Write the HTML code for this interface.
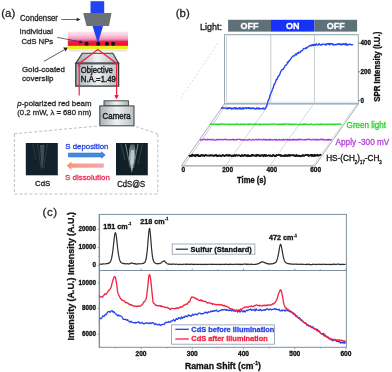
<!DOCTYPE html>
<html><head><meta charset="utf-8"><style>
html,body{margin:0;padding:0;background:#fff;width:392px;height:372px;overflow:hidden}
svg{display:block}
text{font-family:"Liberation Sans",Arial,sans-serif}
</style></head><body>
<svg width="392" height="372" viewBox="0 0 392 372">
<defs>
<linearGradient id="pink" x1="0" y1="0" x2="0" y2="1">
<stop offset="0" stop-color="#fde8f0"/><stop offset="0.3" stop-color="#f9c2d6"/><stop offset="0.52" stop-color="#f392ba"/><stop offset="0.6" stop-color="#e56aa6"/><stop offset="0.68" stop-color="#f02242"/><stop offset="1" stop-color="#ee0c2a"/></linearGradient>
<linearGradient id="objg" x1="0" y1="0" x2="1" y2="0">
<stop offset="0" stop-color="#a9b0b4"/><stop offset="0.5" stop-color="#eef1f1"/><stop offset="1" stop-color="#b8bec2"/></linearGradient>
<linearGradient id="objt" x1="0" y1="0" x2="1" y2="0">
<stop offset="0" stop-color="#9aa2a6"/><stop offset="0.5" stop-color="#f2f4f4"/><stop offset="1" stop-color="#aab2b6"/></linearGradient>
<linearGradient id="arrB" x1="0" y1="0" x2="0" y2="1">
<stop offset="0" stop-color="#2f68e6"/><stop offset="0.5" stop-color="#3f8ce0"/><stop offset="1" stop-color="#2f68e6"/></linearGradient>
<linearGradient id="arrR" x1="0" y1="0" x2="1" y2="0">
<stop offset="0" stop-color="#f29070"/><stop offset="0.25" stop-color="#f6a08c"/><stop offset="1" stop-color="#f8a4b8"/></linearGradient>
<radialGradient id="img1" cx="0.5" cy="0.45" r="0.6">
<stop offset="0" stop-color="#2c3e44"/><stop offset="1" stop-color="#142228"/></radialGradient>
<linearGradient id="vB" x1="0" y1="0" x2="0" y2="1">
<stop offset="0" stop-color="#b9c4c4" stop-opacity="0.9"/><stop offset="1" stop-color="#dfe6e6" stop-opacity="0.95"/></linearGradient>
<linearGradient id="vA" x1="0" y1="0" x2="0" y2="1">
<stop offset="0" stop-color="#5a6e72" stop-opacity="0.7"/><stop offset="1" stop-color="#6d8084" stop-opacity="0.8"/></linearGradient>
<filter id="bl1" x="-0.3" y="-0.3" width="1.6" height="1.6"><feGaussianBlur stdDeviation="0.6"/></filter>
<filter id="bl2" x="-0.3" y="-0.3" width="1.6" height="1.6"><feGaussianBlur stdDeviation="0.75"/></filter>
<linearGradient id="spB" x1="0" y1="0" x2="0" y2="1"><stop offset="0" stop-color="#4e6266"/><stop offset="0.35" stop-color="#8a9a9c"/><stop offset="0.6" stop-color="#b4c0c0"/><stop offset="1" stop-color="#8a9a9c"/></linearGradient>
<linearGradient id="stB" x1="0" y1="0" x2="0" y2="1" gradientUnits="objectBoundingBox"><stop offset="0" stop-color="#7a8c8e"/><stop offset="1" stop-color="#5a6c70"/></linearGradient>
</defs>
<rect width="392" height="372" fill="#fff"/>
<text x="1.3" y="16.9" font-size="11.4" fill="#231f20" stroke="#231f20" stroke-width="0.3" text-anchor="start"  >(a)</text>
<rect x="90.5" y="1.2" width="13.7" height="12" fill="#2344f0"/>
<polygon points="83.2,13 111.5,13 109,26 86.5,26" fill="#6b7175"/>
<rect x="67.8" y="31.7" width="60.2" height="14.2" fill="url(#pink)"/>
<rect x="67.8" y="45.9" width="60.4" height="3.2" fill="#eeee1e"/>
<rect x="69" y="49.3" width="58" height="2.2" fill="#e2e6ea"/>
<polygon points="92.6,26 103,26 97.9,43.5" fill="#2140f0"/>
<circle cx="86.6" cy="43.8" r="2.05" fill="#10101c"/>
<circle cx="98.2" cy="43.8" r="2.05" fill="#10101c"/>
<circle cx="106.9" cy="43.8" r="2.05" fill="#10101c"/>
<circle cx="113.1" cy="43.8" r="2.05" fill="#10101c"/>
<polygon points="82.3,53.3 112.8,53.3 118.6,63.2 75.8,63.2" fill="url(#objt)" stroke="#34383b" stroke-width="1.1"/>
<rect x="75.8" y="63.2" width="42.8" height="22.9" fill="url(#objg)" stroke="#34383b" stroke-width="1.3"/>
<line x1="76.4" y1="64.2" x2="118" y2="64.2" stroke="#6a7074" stroke-width="0.8"/>
<polyline points="79.2,95.5 79.2,63.4 97.9,49.6 116.6,63.4 116.6,96" fill="none" stroke="#f0203f" stroke-width="1.2"/>
<polygon points="114.6,95 118.8,95 116.7,99" fill="#f0203f"/>
<polygon points="77.6,66.4 81,66.4 79.3,63.4" fill="#f0203f"/>
<polygon points="114.3,95.4 118.5,95.4 116.4,99" fill="#f0203f"/>
<text transform="translate(80.8,72.8) scale(1,1.12)" font-size="7.7" fill="#1b1b1b" stroke="#1b1b1b" stroke-width="0.4" text-anchor="start"  >Objective</text>
<text transform="translate(80.8,81.9) scale(1,1.12)" font-size="7.85" fill="#1b1b1b" stroke="#1b1b1b" stroke-width="0.4" text-anchor="start"  >N.A.=1.49</text>
<rect x="104" y="100.8" width="24.4" height="5.1" fill="url(#objt)" stroke="#3b3f42" stroke-width="0.9"/>
<rect x="99.8" y="105.9" width="34.2" height="19.9" fill="url(#objg)" stroke="#3b3f42" stroke-width="1"/>
<text transform="translate(102.6,119) scale(1,1.1)" font-size="7.92" fill="#1b1b1b" stroke="#1b1b1b" stroke-width="0.4" text-anchor="start"  >Camera</text>
<text transform="translate(20,21.3) scale(1,1.05)" font-size="7.77" fill="#2a2a2a" stroke="#2a2a2a" stroke-width="0.3" text-anchor="start"  >Condenser</text>
<line x1="61.3" y1="19.5" x2="78" y2="19.5" stroke="#444" stroke-width="0.8"/>
<polygon points="76.6,17.7 80.6,19.5 76.6,21.3" fill="#222"/>
<text x="19.6" y="33.9" font-size="7.9" fill="#2a2a2a" stroke="#2a2a2a" stroke-width="0.3" text-anchor="start"  >Individual</text>
<text x="21.4" y="43.75" font-size="7.74" fill="#2a2a2a" stroke="#2a2a2a" stroke-width="0.3" text-anchor="start"  >CdS NPs</text>
<line x1="57.2" y1="37.4" x2="68" y2="39.4" stroke="#444" stroke-width="0.8"/>
<line x1="68" y1="39.4" x2="80.5" y2="41.9" stroke="#3a2a6a" stroke-width="0.8"/>
<polygon points="79.8,39.9 83.4,42.7 79,43.8" fill="#2a1e50"/>
<text x="22" y="72.2" font-size="7.87" fill="#2a2a2a" stroke="#2a2a2a" stroke-width="0.3" text-anchor="start"  >Gold-coated</text>
<text x="22" y="80.7" font-size="7.98" fill="#2a2a2a" stroke="#2a2a2a" stroke-width="0.3" text-anchor="start"  >coverslip</text>
<line x1="43.9" y1="61.4" x2="64.5" y2="49.6" stroke="#333" stroke-width="0.8"/>
<polygon points="63.2,47.6 67.8,47.6 65.6,51.6" fill="#222"/>
<text transform="translate(17.3,106.3)" font-size="7.85" fill="#2a2a2a" stroke="#2a2a2a" stroke-width="0.3" ><tspan font-style="italic">p</tspan>-polarized red beam</text>
<text x="17.3" y="115.2" font-size="7.74" fill="#2a2a2a" stroke="#2a2a2a" stroke-width="0.3" text-anchor="start"  >(0.2 mW, λ = 680 nm)</text>
<polyline points="14.4,134 14.4,194 157.8,194 157.8,134" fill="none" stroke="#b4b8bb" stroke-width="0.9" stroke-dasharray="3,2"/>
<line x1="14.2" y1="133.8" x2="99.8" y2="125.8" stroke="#b4b8bb" stroke-width="0.9" stroke-dasharray="3,2"/>
<line x1="157.8" y1="134" x2="134" y2="125.8" stroke="#b4b8bb" stroke-width="0.9" stroke-dasharray="3,2"/>
<rect x="25.8" y="143" width="32" height="32.3" fill="#13222a"/>
<g filter="url(#bl1)">
<polygon points="40,145 44.5,145 43.5,160 42,171 41,160" fill="#41555a" opacity="0.9"/>
<line x1="37.5" y1="144" x2="41.2" y2="168" stroke="#2e4248" stroke-width="0.9"/>
<line x1="47.5" y1="144" x2="43.5" y2="168" stroke="#2e4248" stroke-width="0.9"/>
<line x1="33" y1="144" x2="36" y2="160" stroke="#2a3c42" stroke-width="0.9"/>
</g>
<rect x="116" y="143" width="31.8" height="32.3" fill="#111f27"/>
<g filter="url(#bl2)">
<polygon points="130.4,144.5 134.4,144.5 135.4,150 135,158 133.4,166 131.8,173 130.4,166 129,158 129,150" fill="url(#spB)"/>
<polygon points="131.2,150 134,150 134,156 133,163 132,167 131,161 130.6,155" fill="#c8d2d2" opacity="0.8"/>
<line x1="125.5" y1="144" x2="130.4" y2="168" stroke="url(#stB)" stroke-width="1"/>
<line x1="138" y1="144" x2="133.4" y2="168" stroke="url(#stB)" stroke-width="1"/>
<line x1="121" y1="144" x2="125" y2="160" stroke="#2e4046" stroke-width="1.1"/>
<line x1="142.5" y1="144" x2="138" y2="164" stroke="#2e4046" stroke-width="1.1"/>
</g>
<text transform="translate(42.6,186.2) scale(1,1.03)" font-size="7.8" fill="#1b1b1b" stroke="#1b1b1b" stroke-width="0.3" text-anchor="middle"  >CdS</text>
<text transform="translate(131.2,186.6) scale(1,1.12)" font-size="7.7" fill="#1b1b1b" stroke="#1b1b1b" stroke-width="0.3" text-anchor="middle"  >CdS@S</text>
<polygon points="68.1,152.8 101.2,152.8 101.2,151.2 105.7,155 101.2,158.8 101.2,157.2 68.1,157.2" fill="url(#arrB)"/>
<line x1="69.5" y1="155" x2="102" y2="155" stroke="#8cc890" stroke-width="0.6" stroke-dasharray="0.8,1.6"/>
<polygon points="103.8,163.6 71.4,163.6 71.4,161.6 66.8,165.7 71.4,169.9 71.4,167.8 103.8,167.8" fill="url(#arrR)"/>
<line x1="70" y1="165.7" x2="102.5" y2="165.7" stroke="#f09060" stroke-width="0.6" stroke-dasharray="0.8,1.6"/>
<text x="65.3" y="148.7" font-size="7.85" fill="#2a44e0" stroke="#2a44e0" stroke-width="0.3" text-anchor="start"  >S deposition</text>
<text x="65.1" y="179.5" font-size="7.9" fill="#f02a55" stroke="#f02a55" stroke-width="0.3" text-anchor="start"  >S dissolution</text>
<text x="175.8" y="17.2" font-size="11.4" fill="#231f20" stroke="#231f20" stroke-width="0.3" text-anchor="start"  >(b)</text>
<text x="200" y="29.6" font-size="8.96" fill="#111" stroke="#111" stroke-width="0.3" text-anchor="start"  >Light:</text>
<rect x="228.1" y="19.8" width="42.9" height="11.8" fill="#5e7078"/>
<rect x="271" y="19.8" width="43.5" height="11.8" fill="#1732f8"/>
<rect x="314.5" y="19.8" width="42.6" height="11.8" fill="#5e7078"/>
<text x="249.5" y="29.3" font-size="9" font-weight="bold" fill="#fff" stroke="#fff" stroke-width="0.3" text-anchor="middle"  >OFF</text>
<text x="292.7" y="29.3" font-size="9" font-weight="bold" fill="#fff" stroke="#fff" stroke-width="0.3" text-anchor="middle"  >ON</text>
<text x="335.8" y="29.3" font-size="9" font-weight="bold" fill="#fff" stroke="#fff" stroke-width="0.3" text-anchor="middle"  >OFF</text>
<line x1="217.6" y1="43.3" x2="181.1" y2="97.6" stroke="#c8d0d8" stroke-width="0.8" stroke-dasharray="2,2"/>
<rect x="224.5" y="34.6" width="133.8" height="69.1" fill="none" stroke="#9aa8b2" stroke-width="1"/>
<line x1="224.5" y1="103.7" x2="358.3" y2="103.7" stroke="#a2b0bc" stroke-width="1.4"/>
<line x1="226.5" y1="35.8" x2="226.5" y2="102.4" stroke="#c4ced6" stroke-width="0.8"/>
<line x1="226.5" y1="35.8" x2="357.5" y2="35.8" stroke="#d4dce2" stroke-width="0.6"/>
<line x1="226.5" y1="102.2" x2="357.5" y2="102.2" stroke="#d0d8de" stroke-width="0.7"/>
<line x1="270.8" y1="34.6" x2="270.8" y2="103.8" stroke="#b8c4cc" stroke-width="0.8"/>
<line x1="314.5" y1="34.6" x2="314.5" y2="103.8" stroke="#b8c4cc" stroke-width="0.8"/>
<line x1="358.3" y1="43.1" x2="360" y2="43.1" stroke="#555" stroke-width="0.8"/>
<text transform="translate(360.6,45.3) scale(1,1.04)" font-size="6.3" font-weight="bold" fill="#111" stroke="#111" stroke-width="0.3" text-anchor="start"  >400</text>
<line x1="358.3" y1="71.8" x2="360" y2="71.8" stroke="#555" stroke-width="0.8"/>
<text transform="translate(360.6,74) scale(1,1.04)" font-size="6.3" font-weight="bold" fill="#111" stroke="#111" stroke-width="0.3" text-anchor="start"  >200</text>
<line x1="358.3" y1="100.6" x2="360" y2="100.6" stroke="#555" stroke-width="0.8"/>
<text transform="translate(360.6,102.8) scale(1,1.04)" font-size="6.3" font-weight="bold" fill="#111" stroke="#111" stroke-width="0.3" text-anchor="start"  >0</text>
<text transform="translate(379.8,101.8) rotate(-90) scale(1,1.08)" font-size="7.85" font-weight="bold" fill="#111" stroke="#111" stroke-width="0.3" >SPR Intensity (I.U.)</text>
<line x1="224.4" y1="104" x2="181.4" y2="165.8" stroke="#8c9aa6" stroke-width="0.8"/>
<line x1="226.6" y1="104.6" x2="183.8" y2="165.4" stroke="#aab6c0" stroke-width="0.7"/>
<line x1="358.3" y1="104" x2="314.8" y2="165.8" stroke="#8c9aa6" stroke-width="0.8"/>
<line x1="356.4" y1="105" x2="313.2" y2="165.4" stroke="#c0cad2" stroke-width="0.6"/>
<line x1="181.4" y1="165.9" x2="314.6" y2="165.9" stroke="#95a5b0" stroke-width="1.3"/>
<line x1="225.7" y1="165.6" x2="269.4" y2="103.8" stroke="#b8c8e0" stroke-width="0.7"/>
<line x1="270" y1="165.6" x2="313.6" y2="103.8" stroke="#b8c8e0" stroke-width="0.7"/>
<text transform="translate(183.4,172.4) scale(1,1.04)" font-size="6.5" font-weight="bold" fill="#111" stroke="#111" stroke-width="0.3" text-anchor="middle"  >0</text>
<text transform="translate(227.6,172.4) scale(1,1.04)" font-size="6.5" font-weight="bold" fill="#111" stroke="#111" stroke-width="0.3" text-anchor="middle"  >200</text>
<text transform="translate(271.8,172.4) scale(1,1.04)" font-size="6.5" font-weight="bold" fill="#111" stroke="#111" stroke-width="0.3" text-anchor="middle"  >400</text>
<text transform="translate(315.6,172.4) scale(1,1.04)" font-size="6.5" font-weight="bold" fill="#111" stroke="#111" stroke-width="0.3" text-anchor="middle"  >600</text>
<text transform="translate(251.6,182.5) scale(1,1.08)" font-size="7.63" font-weight="bold" fill="#111" stroke="#111" stroke-width="0.3" text-anchor="middle"  >Time (s)</text>
<polyline points="221,108.17 221.5,108.65 222,107.5 222.5,107.99 223,107.74 223.5,107.65 224,107.8 224.5,108.06 225,108.14 225.5,108.37 226,108.18 226.5,108.61 227,107.84 227.5,108.92 228,107.56 228.5,108.59 229,108.19 229.5,108.41 230,107.74 230.5,107.84 231,108.8 231.5,109.07 232,108.03 232.5,108.63 233,108.93 233.5,108.96 234,107.67 234.5,107.59 235,107.8 235.5,108.94 236,107.69 236.5,108.21 237,109.07 237.5,108.39 238,108.65 238.5,108.04 239,108.64 239.5,108.88 240,107.57 240.5,108.74 241,109.13 241.5,108.74 242,108 242.5,108.81 243,107.71 243.5,108.27 244,109.01 244.5,108.02 245,108.01 245.5,107.76 246,107.59 246.5,108.64 247,107.9 247.5,107.98 248,108.35 248.5,107.65 249,108.48 249.5,107.8 250,108.51 250.5,108.69 251,107.73 251.5,108.23 252,108.68 252.5,108.23 253,107.65 253.5,108.43 254,108.64 254.5,108.4 255,109.09 255.5,108.52 256,109.02 256.5,107.8 257,107.8 257.5,108.87 258,108.22 258.5,107.85 259,109.07 259.5,108.14 260,108.79 260.5,108.75 261,109 261.5,108.59 262,108.79 262.5,108.15 263,108.03 263.5,109.03 264,108.28 264.5,109.14 265,108.66 265.5,108.59 266,106.9 266.5,106.77 267,104.51 267.5,103.25 268,101.51 268.5,99.77 269,99.37 269.5,97.37 270,94.99 270.5,94.61 271,92.84 271.5,91.85 272,91.12 272.5,88.97 273,88.55 273.5,86.79 274,84.52 274.5,84.67 275,82.99 275.5,82.33 276,80.11 276.5,79.15 277,79.53 277.5,78.25 278,76.34 278.5,76.54 279,75.63 279.5,75 280,73.76 280.5,71.96 281,71.1 281.5,70.41 282,69.72 282.5,69.37 283,69.66 283.5,68.45 284,67.77 284.5,67.54 285,65.69 285.5,65.25 286,65.08 286.5,65.04 287,63.73 287.5,62.2 288,62.8 288.5,61.23 289,61.49 289.5,60.17 290,60.27 290.5,59.43 291,58.65 291.5,57.56 292,57.02 292.5,56.69 293,56.15 293.5,55.83 294,55.59 294.5,55.95 295,55.29 295.5,53.99 296,53.72 296.5,54.83 297,53.87 297.5,52.96 298,52.72 298.5,53.18 299,51.98 299.5,52.27 300,52.57 300.5,52.05 301,50.75 301.5,50.81 302,50.66 302.5,50.65 303,49.23 303.5,48.67 304,48.4 304.5,48.72 305,48.57 305.5,48.24 306,47.56 306.5,48.36 307,47.43 307.5,46.83 308,46.83 308.5,46.87 309,46.47 309.5,45.69 310,45.24 310.5,45.6 311,45.88 311.5,45.08 312,45.82 312.5,44.59 313,44.77 313.5,45.51 314,44.4 314.5,44.98 315,44.67 315.5,45.26 316,44.17 316.5,43.82 317,44.87 317.5,44.9 318,45.08 318.5,45.09 319,43.6 319.5,43.92 320,44.5 320.5,45.01 321,44.98 321.5,44.32 322,44.86 322.5,44.43 323,44.02 323.5,44.18 324,44.37 324.5,44.28 325,44.88 325.5,44.87 326,44.03 326.5,44.94 327,43.68 327.5,43.6 328,43.62 328.5,44.21 329,43.43 329.5,44.92 330,44.73 330.5,43.43 331,43.69 331.5,43.94 332,43.62 332.5,44.71 333,43.97 333.5,44.92 334,44.35 334.5,44.83 335,44.78 335.5,44.87 336,44.16 336.5,44.3 337,44.71 337.5,43.89 338,44.22 338.5,44.4 339,43.47 339.5,44.39 340,44.14 340.5,44.74 341,43.95 341.5,44.88 342,44.38 342.5,43.75 343,44.72 343.5,44.44 344,43.55 344.5,44.14 345,44.55 345.5,44.94 346,43.47 346.5,45.04 347,44.08 347.5,45.03 348,44.45 348.5,44.81 349,44.4 349.5,44.49 350,43.94 350.5,44.43 351,44.69 351.5,44.87 352,44.7 352.5,44.61 353,44.88" fill="none" stroke="#2646f0" stroke-width="1.35" stroke-linejoin="round"/>
<polyline points="209.8,124.24 210.3,123.87 210.8,124.34 211.3,124.24 211.8,124.23 212.3,124.15 212.8,124.03 213.3,124.41 213.8,124.12 214.3,124.09 214.8,124.41 215.3,124.33 215.8,123.97 216.3,124.31 216.8,124.02 217.3,124.56 217.8,124.62 218.3,124.29 218.8,124.61 219.3,123.92 219.8,124.3 220.3,123.91 220.8,124.24 221.3,123.94 221.8,123.96 222.3,124.39 222.8,124.05 223.3,123.95 223.8,124.05 224.3,124.16 224.8,124.27 225.3,124.03 225.8,124.43 226.3,124.28 226.8,124.3 227.3,124.2 227.8,124.56 228.3,124.37 228.8,124 229.3,124.48 229.8,124.72 230.3,124.3 230.8,124.65 231.3,124.16 231.8,124.36 232.3,124.23 232.8,124.24 233.3,124.55 233.8,124.33 234.3,124.71 234.8,124.34 235.3,123.92 235.8,124.18 236.3,124.62 236.8,124.22 237.3,123.87 237.8,124.07 238.3,123.91 238.8,124.74 239.3,124.72 239.8,124.57 240.3,124.39 240.8,124.54 241.3,124 241.8,124.11 242.3,124.32 242.8,124.17 243.3,123.89 243.8,124.73 244.3,124.25 244.8,124.3 245.3,124.14 245.8,124.08 246.3,124.2 246.8,124.6 247.3,124.51 247.8,124.19 248.3,123.86 248.8,124.57 249.3,124.09 249.8,124.37 250.3,123.87 250.8,124.45 251.3,124.2 251.8,124.3 252.3,124.22 252.8,124.17 253.3,124.35 253.8,124.73 254.3,123.95 254.8,124.13 255.3,123.89 255.8,124.51 256.3,124.44 256.8,124.04 257.3,124.23 257.8,124.43 258.3,124.45 258.8,124 259.3,124.64 259.8,124.55 260.3,123.97 260.8,124.63 261.3,124.52 261.8,124.57 262.3,124.34 262.8,124.05 263.3,124.68 263.8,124.38 264.3,124.16 264.8,124.09 265.3,124.67 265.8,124.23 266.3,124.34 266.8,124.4 267.3,124.59 267.8,124.41 268.3,124.01 268.8,124.38 269.3,124.29 269.8,124.34 270.3,124.48 270.8,124.07 271.3,124.02 271.8,123.95 272.3,124.1 272.8,123.86 273.3,124.42 273.8,124.12 274.3,124.02 274.8,123.94 275.3,124.11 275.8,124.04 276.3,124.11 276.8,124.27 277.3,124.34 277.8,124.61 278.3,124.74 278.8,123.89 279.3,124.06 279.8,124.43 280.3,124 280.8,124.63 281.3,124.05 281.8,124.52 282.3,124.44 282.8,124.57 283.3,123.88 283.8,124.06 284.3,124.48 284.8,123.93 285.3,123.88 285.8,124.17 286.3,124.38 286.8,123.9 287.3,123.91 287.8,123.89 288.3,124.21 288.8,124.45 289.3,124.03 289.8,124.64 290.3,124.24 290.8,124.41 291.3,124.11 291.8,124.4 292.3,124.71 292.8,124.25 293.3,124.04 293.8,124.23 294.3,124.25 294.8,124.31 295.3,124.32 295.8,123.89 296.3,124 296.8,124.26 297.3,124.49 297.8,124.55 298.3,124.55 298.8,124.3 299.3,124.71 299.8,124.15 300.3,124.28 300.8,124.52 301.3,124.62 301.8,124.22 302.3,124.61 302.8,124.25 303.3,124.49 303.8,123.86 304.3,123.87 304.8,124.7 305.3,123.94 305.8,124.45 306.3,124.1 306.8,124.03 307.3,124.2 307.8,124.68 308.3,124.36 308.8,124.68 309.3,124.48 309.8,124.3 310.3,124.31 310.8,124.05 311.3,123.85 311.8,124.23 312.3,124.36 312.8,124.64 313.3,124.46 313.8,124.61 314.3,124.68 314.8,124.7 315.3,124.58 315.8,123.97 316.3,124.16 316.8,124.04 317.3,124.63 317.8,124.56 318.3,124.16 318.8,124.36 319.3,124.57 319.8,124.6 320.3,124.04 320.8,124.51 321.3,124.57 321.8,123.89 322.3,123.95 322.8,124.24 323.3,124.05 323.8,124.64 324.3,124.5 324.8,124.49 325.3,124.54 325.8,124.15 326.3,124.06 326.8,124.41 327.3,124.22 327.8,124.69 328.3,124.43 328.8,124.2 329.3,124.62 329.8,124.19 330.3,124.01 330.8,124.55 331.3,124.27 331.8,124.08 332.3,124.47 332.8,124.73 333.3,124.07 333.8,124.56 334.3,124.54 334.8,123.96 335.3,124.61 335.8,124.27 336.3,123.96 336.8,124.33 337.3,124.12 337.8,124.01 338.3,123.92 338.8,124.03 339.3,124.24 339.8,124.43 340.3,123.93 340.8,124.49 341.3,123.94" fill="none" stroke="#22dd22" stroke-width="1.3" stroke-linejoin="round"/>
<polyline points="199.7,139.75 200.2,139.91 200.7,139.49 201.2,139.71 201.7,140.09 202.2,140.1 202.7,139.33 203.2,139.41 203.7,139.25 204.2,139.64 204.7,139.23 205.2,139.66 205.7,139.85 206.2,139.48 206.7,139.88 207.2,139.79 207.7,139.22 208.2,139.76 208.7,139.46 209.2,139.62 209.7,139.48 210.2,139.89 210.7,139.64 211.2,139.36 211.7,139.74 212.2,139.98 212.7,139.51 213.2,139.42 213.7,139.59 214.2,140.14 214.7,140.18 215.2,139.87 215.7,140.1 216.2,140.05 216.7,139.58 217.2,139.29 217.7,139.85 218.2,139.76 218.7,139.56 219.2,139.43 219.7,139.61 220.2,139.67 220.7,139.47 221.2,139.49 221.7,139.66 222.2,140.06 222.7,139.79 223.2,139.48 223.7,139.48 224.2,139.65 224.7,139.41 225.2,139.4 225.7,139.71 226.2,139.29 226.7,139.68 227.2,139.56 227.7,139.91 228.2,139.95 228.7,139.89 229.2,139.89 229.7,139.57 230.2,139.87 230.7,139.54 231.2,139.77 231.7,139.53 232.2,139.65 232.7,139.26 233.2,139.44 233.7,140.17 234.2,139.43 234.7,139.89 235.2,139.85 235.7,139.92 236.2,139.68 236.7,139.8 237.2,139.27 237.7,139.27 238.2,139.4 238.7,139.35 239.2,139.3 239.7,139.33 240.2,139.75 240.7,139.39 241.2,140.15 241.7,139.88 242.2,139.74 242.7,139.91 243.2,139.46 243.7,140.13 244.2,140.04 244.7,139.93 245.2,139.68 245.7,140.04 246.2,139.94 246.7,139.86 247.2,140.11 247.7,139.83 248.2,139.57 248.7,139.75 249.2,139.4 249.7,139.39 250.2,139.93 250.7,139.98 251.2,140.17 251.7,140.05 252.2,139.74 252.7,139.29 253.2,139.69 253.7,140.13 254.2,139.99 254.7,139.69 255.2,139.66 255.7,139.42 256.2,139.38 256.7,139.27 257.2,140.09 257.7,139.84 258.2,139.34 258.7,139.61 259.2,139.25 259.7,139.41 260.2,139.93 260.7,139.85 261.2,139.68 261.7,139.47 262.2,139.85 262.7,140.16 263.2,139.64 263.7,139.27 264.2,139.26 264.7,139.28 265.2,140.16 265.7,139.74 266.2,140.04 266.7,139.37 267.2,139.46 267.7,139.89 268.2,140.1 268.7,139.54 269.2,139.26 269.7,140.06 270.2,139.49 270.7,139.94 271.2,139.36 271.7,139.89 272.2,140.04 272.7,139.93 273.2,139.56 273.7,139.93 274.2,139.34 274.7,139.51 275.2,139.62 275.7,140.08 276.2,139.35 276.7,140.08 277.2,140 277.7,140.17 278.2,139.57 278.7,139.4 279.2,139.44 279.7,140.03 280.2,140.17 280.7,139.9 281.2,139.68 281.7,139.49 282.2,140.03 282.7,140.07 283.2,139.29 283.7,139.42 284.2,140.03 284.7,140.05 285.2,139.51 285.7,139.48 286.2,139.63 286.7,139.74 287.2,139.3 287.7,140.04 288.2,139.73 288.7,139.97 289.2,139.43 289.7,140.17 290.2,139.95 290.7,139.54 291.2,140.15 291.7,139.9 292.2,140.04 292.7,139.25 293.2,139.26 293.7,139.94 294.2,139.5 294.7,139.72 295.2,139.36 295.7,140.18 296.2,139.7 296.7,140.03 297.2,139.27 297.7,139.68 298.2,139.26 298.7,140.08 299.2,139.65 299.7,139.27 300.2,139.28 300.7,139.74 301.2,139.28 301.7,139.38 302.2,139.64 302.7,139.7 303.2,139.78 303.7,139.82 304.2,139.57 304.7,139.82 305.2,139.36 305.7,139.48 306.2,140 306.7,139.35 307.2,139.42 307.7,139.44 308.2,139.68 308.7,139.2 309.2,139.23 309.7,139.66 310.2,139.36 310.7,139.88 311.2,140 311.7,139.78 312.2,139.89 312.7,139.59 313.2,139.25 313.7,139.64 314.2,139.57 314.7,139.8 315.2,139.33 315.7,139.43 316.2,140.01 316.7,139.46 317.2,139.61 317.7,140.14 318.2,139.48 318.7,139.35 319.2,139.9 319.7,139.77 320.2,139.81 320.7,139.24 321.2,139.62 321.7,139.2 322.2,139.45 322.7,139.91 323.2,139.26 323.7,139.49 324.2,140.19 324.7,140.17 325.2,139.68 325.7,139.94 326.2,139.83 326.7,139.67 327.2,140.06 327.7,139.37 328.2,140.03 328.7,139.24 329.2,140.07 329.7,139.88 330.2,139.65 330.7,139.87 331.2,139.66 331.7,139.98" fill="none" stroke="#b035e0" stroke-width="1.3" stroke-linejoin="round"/>
<polyline points="189,156.25 189.5,155.58 190,156.26 190.5,155.84 191,155.82 191.5,155.05 192,156.26 192.5,154.71 193,155.1 193.5,155.4 194,155.95 194.5,155.02 195,156.08 195.5,156.27 196,154.96 196.5,155.66 197,154.71 197.5,155.32 198,154.77 198.5,156.23 199,155.4 199.5,156.22 200,155.96 200.5,156.09 201,154.98 201.5,154.82 202,155.66 202.5,154.97 203,155.87 203.5,155.35 204,155.54 204.5,156.2 205,155.53 205.5,154.87 206,154.95 206.5,155.57 207,155.54 207.5,155.72 208,155.34 208.5,155.74 209,155.34 209.5,155.7 210,155.93 210.5,154.99 211,155.3 211.5,155.5 212,155.8 212.5,155.11 213,155.59 213.5,155.7 214,156.13 214.5,155.28 215,155.72 215.5,155.01 216,155.5 216.5,154.99 217,156.17 217.5,155.39 218,156.03 218.5,155.37 219,156.15 219.5,155.35 220,155.23 220.5,155.62 221,156.05 221.5,156.08 222,155.65 222.5,154.84 223,155.66 223.5,155.09 224,155.87 224.5,156.13 225,155.52 225.5,155.67 226,154.8 226.5,155.56 227,154.91 227.5,155.68 228,155.28 228.5,155.93 229,154.78 229.5,154.88 230,155.79 230.5,155.52 231,155.61 231.5,156.05 232,155.48 232.5,156 233,155.52 233.5,156.18 234,155.77 234.5,154.94 235,155.28 235.5,156.09 236,155.26 236.5,155 237,155.46 237.5,155.33 238,155.69 238.5,155.4 239,155.12 239.5,155.36 240,155.37 240.5,156.14 241,156.27 241.5,155.7 242,154.83 242.5,155.87 243,155.79 243.5,156.02 244,155.26 244.5,154.79 245,155.68 245.5,154.9 246,155.92 246.5,155.97 247,155.35 247.5,156.21 248,154.98 248.5,156.21 249,155.44 249.5,155.92 250,155.9 250.5,156.27 251,156.26 251.5,154.76 252,154.73 252.5,155.57 253,154.75 253.5,155.75 254,155.56 254.5,155.77 255,155.41 255.5,155.14 256,156.22 256.5,155.87 257,154.71 257.5,154.86 258,155.71 258.5,155.16 259,155.35 259.5,155.95 260,155.27 260.5,156.18 261,155.85 261.5,155.58 262,154.99 262.5,155.36 263,155.92 263.5,156.29 264,154.82 264.5,154.92 265,155.88 265.5,156.03 266,154.84 266.5,156.03 267,155.96 267.5,155.8 268,155.24 268.5,155.41 269,155.29 269.5,156.04 270,155.23 270.5,155.22 271,156.2 271.5,156.17 272,156.25 272.5,155.99 273,154.84 273.5,154.85 274,155.59 274.5,156.07 275,156.11 275.5,155.72 276,156.23 276.5,154.94 277,155.05 277.5,155.23 278,155.11 278.5,155.2 279,154.89 279.5,155.3 280,154.75 280.5,155.56 281,156.21 281.5,155.41 282,155.7 282.5,155.68 283,156.19 283.5,155.88 284,156.02 284.5,155.24 285,156.15 285.5,155 286,155.35 286.5,155.88 287,155.23 287.5,156.12 288,156.08 288.5,154.96 289,155.07 289.5,154.78 290,156.07 290.5,155.24 291,155.33 291.5,155.13 292,154.9 292.5,155.43 293,155.08 293.5,155.6 294,155.02 294.5,155.52 295,156.22 295.5,155.29 296,156.23 296.5,154.79 297,155.58 297.5,155.66 298,156.24 298.5,156.18 299,155.52 299.5,155.92 300,156.26 300.5,155.88 301,156.23 301.5,156.2 302,155.47 302.5,155.76 303,154.99 303.5,155.4 304,156.09 304.5,155.62 305,155.15 305.5,154.9 306,155.07 306.5,154.9 307,155.07 307.5,155.31 308,154.77 308.5,156.04 309,155.35 309.5,155.61 310,155.72 310.5,154.91 311,154.83 311.5,154.95 312,156.28 312.5,154.87 313,155.38 313.5,156.1 314,155.63 314.5,154.73 315,156.12 315.5,155.31 316,154.97 316.5,155.24 317,155.65 317.5,154.76 318,155.73 318.5,155.68 319,155.07 319.5,155.38 320,155.01 320.5,154.73 321,155.63" fill="none" stroke="#111" stroke-width="1.7" stroke-linejoin="round"/>
<text transform="translate(346.6,128.2) scale(1,1.1)" font-size="8.08" fill="#2ed02e" stroke="#2ed02e" stroke-width="0.3" text-anchor="start"  >Green light</text>
<text transform="translate(335.6,144.6) scale(1,1.08)" font-size="8.19" fill="#b444dc" stroke="#b444dc" stroke-width="0.3" text-anchor="start"  >Apply -300 mV</text>
<text transform="translate(326.2,161) scale(1,1.1)" font-size="8.2" fill="#111" stroke="#111" stroke-width="0.3" >HS-(CH<tspan font-size="4.3" dy="2.3">2</tspan><tspan dy="-2.3">)</tspan><tspan font-size="4.3" dy="2.3">17</tspan><tspan dy="-2.3">-CH</tspan><tspan font-size="4.3" dy="2.3">3</tspan></text>
<text x="42.6" y="215.5" font-size="11.6" fill="#231f20" stroke="#231f20" stroke-width="0.3" text-anchor="start"  letter-spacing="0.5">(c)</text>
<rect x="99.4" y="214.4" width="247" height="56.1" fill="none" stroke="#7e8f9c" stroke-width="1"/>
<rect x="99.4" y="270.5" width="247" height="76.8" fill="none" stroke="#7e8f9c" stroke-width="1"/>
<line x1="99.4" y1="214" x2="99.4" y2="347.8" stroke="#7e8f9c" stroke-width="1.3"/>
<line x1="115.38" y1="347.3" x2="115.38" y2="348.5" stroke="#7e8f9c" stroke-width="0.8"/>
<line x1="115.38" y1="270.5" x2="115.38" y2="269.3" stroke="#7e8f9c" stroke-width="0.8"/>
<line x1="141" y1="347.3" x2="141" y2="349.3" stroke="#7e8f9c" stroke-width="0.8"/>
<line x1="141" y1="270.5" x2="141" y2="268.5" stroke="#7e8f9c" stroke-width="0.8"/>
<text transform="translate(141,356) scale(1,1.04)" font-size="6.6" font-weight="bold" fill="#111" stroke="#111" stroke-width="0.3" text-anchor="middle"  >200</text>
<line x1="166.62" y1="347.3" x2="166.62" y2="348.5" stroke="#7e8f9c" stroke-width="0.8"/>
<line x1="166.62" y1="270.5" x2="166.62" y2="269.3" stroke="#7e8f9c" stroke-width="0.8"/>
<line x1="192.24" y1="347.3" x2="192.24" y2="349.3" stroke="#7e8f9c" stroke-width="0.8"/>
<line x1="192.24" y1="270.5" x2="192.24" y2="268.5" stroke="#7e8f9c" stroke-width="0.8"/>
<text transform="translate(192.24,356) scale(1,1.04)" font-size="6.6" font-weight="bold" fill="#111" stroke="#111" stroke-width="0.3" text-anchor="middle"  >300</text>
<line x1="217.86" y1="347.3" x2="217.86" y2="348.5" stroke="#7e8f9c" stroke-width="0.8"/>
<line x1="217.86" y1="270.5" x2="217.86" y2="269.3" stroke="#7e8f9c" stroke-width="0.8"/>
<line x1="243.48" y1="347.3" x2="243.48" y2="349.3" stroke="#7e8f9c" stroke-width="0.8"/>
<line x1="243.48" y1="270.5" x2="243.48" y2="268.5" stroke="#7e8f9c" stroke-width="0.8"/>
<text transform="translate(243.48,356) scale(1,1.04)" font-size="6.6" font-weight="bold" fill="#111" stroke="#111" stroke-width="0.3" text-anchor="middle"  >400</text>
<line x1="269.1" y1="347.3" x2="269.1" y2="348.5" stroke="#7e8f9c" stroke-width="0.8"/>
<line x1="269.1" y1="270.5" x2="269.1" y2="269.3" stroke="#7e8f9c" stroke-width="0.8"/>
<line x1="294.72" y1="347.3" x2="294.72" y2="349.3" stroke="#7e8f9c" stroke-width="0.8"/>
<line x1="294.72" y1="270.5" x2="294.72" y2="268.5" stroke="#7e8f9c" stroke-width="0.8"/>
<text transform="translate(294.72,356) scale(1,1.04)" font-size="6.6" font-weight="bold" fill="#111" stroke="#111" stroke-width="0.3" text-anchor="middle"  >500</text>
<line x1="320.34" y1="347.3" x2="320.34" y2="348.5" stroke="#7e8f9c" stroke-width="0.8"/>
<line x1="320.34" y1="270.5" x2="320.34" y2="269.3" stroke="#7e8f9c" stroke-width="0.8"/>
<line x1="345.96" y1="347.3" x2="345.96" y2="349.3" stroke="#7e8f9c" stroke-width="0.8"/>
<line x1="345.96" y1="270.5" x2="345.96" y2="268.5" stroke="#7e8f9c" stroke-width="0.8"/>
<text transform="translate(345.96,356) scale(1,1.04)" font-size="6.6" font-weight="bold" fill="#111" stroke="#111" stroke-width="0.3" text-anchor="middle"  >600</text>
<line x1="97.5" y1="229.4" x2="99.5" y2="229.4" stroke="#7e8f9c" stroke-width="0.8"/>
<text transform="translate(96,231.1) scale(1,1.04)" font-size="6.3" font-weight="bold" fill="#111" stroke="#111" stroke-width="0.3" text-anchor="end"  >20000</text>
<line x1="97.5" y1="247.5" x2="99.5" y2="247.5" stroke="#7e8f9c" stroke-width="0.8"/>
<text transform="translate(96,249.2) scale(1,1.04)" font-size="6.3" font-weight="bold" fill="#111" stroke="#111" stroke-width="0.3" text-anchor="end"  >10000</text>
<line x1="97.5" y1="265.5" x2="99.5" y2="265.5" stroke="#7e8f9c" stroke-width="0.8"/>
<text transform="translate(96,267.2) scale(1,1.04)" font-size="6.3" font-weight="bold" fill="#111" stroke="#111" stroke-width="0.3" text-anchor="end"  >0</text>
<line x1="98.3" y1="238.45" x2="99.5" y2="238.45" stroke="#7e8f9c" stroke-width="0.8"/>
<line x1="98.3" y1="256.5" x2="99.5" y2="256.5" stroke="#7e8f9c" stroke-width="0.8"/>
<line x1="97.5" y1="282.9" x2="99.5" y2="282.9" stroke="#7e8f9c" stroke-width="0.8"/>
<text transform="translate(96,284.6) scale(1,1.04)" font-size="6.3" font-weight="bold" fill="#111" stroke="#111" stroke-width="0.3" text-anchor="end"  >10000</text>
<line x1="97.5" y1="308.6" x2="99.5" y2="308.6" stroke="#7e8f9c" stroke-width="0.8"/>
<text transform="translate(96,310.3) scale(1,1.04)" font-size="6.3" font-weight="bold" fill="#111" stroke="#111" stroke-width="0.3" text-anchor="end"  >8000</text>
<line x1="97.5" y1="334.3" x2="99.5" y2="334.3" stroke="#7e8f9c" stroke-width="0.8"/>
<text transform="translate(96,336) scale(1,1.04)" font-size="6.3" font-weight="bold" fill="#111" stroke="#111" stroke-width="0.3" text-anchor="end"  >6000</text>
<line x1="98.3" y1="295.75" x2="99.5" y2="295.75" stroke="#7e8f9c" stroke-width="0.8"/>
<line x1="98.3" y1="321.45" x2="99.5" y2="321.45" stroke="#7e8f9c" stroke-width="0.8"/>
<text transform="translate(73.9,340.6) rotate(-90) scale(1,1.05)" font-size="8.95" font-weight="bold" fill="#111" stroke="#111" stroke-width="0.3" >Intensity (A.U.) Intensity (A.U.)</text>
<text transform="translate(185,369) scale(1,1.12)" font-size="8.7" font-weight="bold" fill="#111" stroke="#111" stroke-width="0.3" text-anchor="start"  >Raman Shift (cm<tspan font-size="5.0" dy="-3.6">-1</tspan><tspan dy="3.6">)</tspan></text>
<polyline points="99.6,263.94 100.1,264.27 100.6,264.09 101.1,264.21 101.6,264.32 102.1,264.07 102.6,264.03 103.1,263.79 103.6,263.85 104.1,263.93 104.6,263.98 105.1,264 105.6,263.73 106.1,263.52 106.6,263.56 107.1,263.78 107.6,263.33 108.1,263.32 108.6,263.4 109.1,262.71 109.6,262.66 110.1,262.31 110.6,261.15 111.1,260.08 111.6,258.47 112.1,255.58 112.6,252.49 113.1,248.59 113.6,244.03 114.1,239.35 114.6,235.28 115.1,232.98 115.6,232.69 116.1,234.78 116.6,238.43 117.1,243.17 117.6,247.71 118.1,251.63 118.6,255.19 119.1,257.7 119.6,259.71 120.1,260.98 120.6,262 121.1,262.43 121.6,262.84 122.1,263.22 122.6,263.24 123.1,263.62 123.6,263.36 124.1,263.72 124.6,263.63 125.1,263.69 125.6,263.85 126.1,263.83 126.6,263.81 127.1,263.63 127.6,263.68 128.1,263.98 128.6,263.84 129.1,263.85 129.6,263.86 130.1,263.57 130.6,263.09 131.1,263.07 131.6,263.11 132.1,262.91 132.6,263.34 133.1,263.46 133.6,263.58 134.1,263.56 134.6,263.9 135.1,263.66 135.6,263.82 136.1,263.94 136.6,264.1 137.1,263.97 137.6,263.78 138.1,263.87 138.6,263.83 139.1,263.79 139.6,263.68 140.1,263.77 140.6,263.73 141.1,263.83 141.6,263.77 142.1,263.55 142.6,263.41 143.1,263.43 143.6,263.31 144.1,262.94 144.6,262.6 145.1,262.01 145.6,260.44 146.1,259 146.6,255.81 147.1,251.76 147.6,246.54 148.1,240.29 148.6,233.93 149.1,229.76 149.6,228.31 150.1,231.07 150.6,236.6 151.1,242.69 151.6,248.74 152.1,253.72 152.6,257.4 153.1,259.81 153.6,260.96 154.1,262.09 154.6,262.65 155.1,262.78 155.6,263.25 156.1,263.45 156.6,263.68 157.1,263.84 157.6,263.51 158.1,263.61 158.6,263.84 159.1,263.55 159.6,263.51 160.1,263.52 160.6,263.06 161.1,263 161.6,262.6 162.1,261.7 162.6,261.5 163.1,261.29 163.6,261.2 164.1,260.89 164.6,261.08 165.1,261.84 165.6,262.35 166.1,262.51 166.6,263.1 167.1,263.62 167.6,263.97 168.1,263.82 168.6,264.2 169.1,264.34 169.6,264.26 170.1,264.09 170.6,264.04 171.1,264.17 171.6,264.44 172.1,264.06 172.6,264.05 173.1,264.23 173.6,264.08 174.1,264.13 174.6,264.07 175.1,264.32 175.6,264.41 176.1,264.28 176.6,264.14 177.1,264.24 177.6,264.37 178.1,264.55 178.6,264.57 179.1,264.2 179.6,264.09 180.1,264.5 180.6,264.55 181.1,264.32 181.6,264.47 182.1,264.52 182.6,264.4 183.1,264.53 183.6,264.11 184.1,264.23 184.6,264.23 185.1,264.16 185.6,264.55 186.1,264.11 186.6,264.44 187.1,264.14 187.6,264.28 188.1,264.31 188.6,264.19 189.1,264.36 189.6,264.37 190.1,264.26 190.6,264.48 191.1,264.19 191.6,264.2 192.1,264.29 192.6,264.3 193.1,264.21 193.6,264.57 194.1,264.53 194.6,264.17 195.1,264.3 195.6,264.23 196.1,264.34 196.6,264.25 197.1,264.37 197.6,264.58 198.1,264.31 198.6,264.44 199.1,264.41 199.6,264.49 200.1,264.15 200.6,264.49 201.1,264.59 201.6,264.42 202.1,264.26 202.6,264.45 203.1,264.47 203.6,264.45 204.1,264.19 204.6,264.61 205.1,264.6 205.6,264.33 206.1,264.42 206.6,264.14 207.1,264.61 207.6,264.53 208.1,264.44 208.6,264.5 209.1,264.22 209.6,264.27 210.1,264.24 210.6,264.42 211.1,264.17 211.6,264.57 212.1,264.35 212.6,264.34 213.1,264.17 213.6,264.46 214.1,264.53 214.6,264.44 215.1,264.24 215.6,264.51 216.1,264.2 216.6,264.54 217.1,264.41 217.6,264.27 218.1,264.38 218.6,264.44 219.1,264.25 219.6,264.55 220.1,264.33 220.6,264.57 221.1,264.54 221.6,264.17 222.1,264.45 222.6,264.28 223.1,264.5 223.6,264.39 224.1,264.35 224.6,264.57 225.1,264.15 225.6,264.4 226.1,264.28 226.6,264.14 227.1,264.5 227.6,264.4 228.1,264.57 228.6,264.42 229.1,264.29 229.6,264.61 230.1,264.18 230.6,264.15 231.1,264.49 231.6,264.3 232.1,264.3 232.6,264.56 233.1,264.28 233.6,264.56 234.1,264.44 234.6,264.28 235.1,264.15 235.6,264.24 236.1,264.6 236.6,264.32 237.1,264.19 237.6,264.26 238.1,264.56 238.6,264.2 239.1,264.5 239.6,264.18 240.1,264.59 240.6,264.38 241.1,264.13 241.6,264.57 242.1,264.29 242.6,264.47 243.1,264.37 243.6,264.15 244.1,264.16 244.6,264.18 245.1,264.18 245.6,264.13 246.1,264.12 246.6,264.57 247.1,264.14 247.6,264.35 248.1,264.16 248.6,264.2 249.1,264.47 249.6,264.56 250.1,264.32 250.6,264.09 251.1,264.59 251.6,264.11 252.1,264.28 252.6,264.35 253.1,264.52 253.6,264.48 254.1,264.37 254.6,264.25 255.1,264.45 255.6,264.44 256.1,264.4 256.6,264.26 257.1,263.86 257.6,263.84 258.1,263.77 258.6,263.58 259.1,263.51 259.6,262.95 260.1,262.88 260.6,262.47 261.1,262.43 261.6,261.95 262.1,261.97 262.6,261.75 263.1,261.86 263.6,262.35 264.1,262.24 264.6,262.77 265.1,262.84 265.6,262.85 266.1,263.47 266.6,263.3 267.1,263.85 267.6,263.56 268.1,263.97 268.6,263.77 269.1,263.88 269.6,264.18 270.1,263.94 270.6,263.99 271.1,263.99 271.6,263.63 272.1,263.93 272.6,263.89 273.1,263.42 273.6,263.5 274.1,263.22 274.6,263.26 275.1,262.63 275.6,262.48 276.1,262.04 276.6,261.15 277.1,259.59 277.6,258.25 278.1,255.73 278.6,253.32 279.1,250.18 279.6,247.1 280.1,245.16 280.6,244.35 281.1,245.15 281.6,247.5 282.1,250.06 282.6,253.04 283.1,255.68 283.6,258.1 284.1,259.74 284.6,260.96 285.1,261.87 285.6,262.36 286.1,262.62 286.6,263.13 287.1,263.22 287.6,263.45 288.1,263.81 288.6,263.52 289.1,263.83 289.6,263.9 290.1,263.77 290.6,263.91 291.1,264.21 291.6,263.93 292.1,264.15 292.6,264.24 293.1,264.02 293.6,264.36 294.1,264.2 294.6,264.15 295.1,264.28 295.6,264.15 296.1,264.3 296.6,264.1 297.1,264.43 297.6,264.25 298.1,264.11 298.6,264.22 299.1,264.45 299.6,264.42 300.1,264.26 300.6,264.2 301.1,264.22 301.6,264.53 302.1,264.1 302.6,264.49 303.1,264.48 303.6,264.17 304.1,264.23 304.6,264.35 305.1,264.47 305.6,264.54 306.1,264.57 306.6,264.22 307.1,264.17 307.6,264.32 308.1,264.36 308.6,264.41 309.1,264.14 309.6,264.41 310.1,264.55 310.6,264.55 311.1,264.57 311.6,264.56 312.1,264.58 312.6,264.12 313.1,264.56 313.6,264.24 314.1,264.26 314.6,264.33 315.1,264.58 315.6,264.41 316.1,264.28 316.6,264.3 317.1,264.56 317.6,264.52 318.1,264.18 318.6,264.24 319.1,264.3 319.6,264.22 320.1,264.4 320.6,264.23 321.1,264.4 321.6,264.59 322.1,264.54 322.6,264.17 323.1,264.22 323.6,264.33 324.1,264.44 324.6,264.32 325.1,264.25 325.6,264.3 326.1,264.23 326.6,264.56 327.1,264.47 327.6,264.33 328.1,264.48 328.6,264.39 329.1,264.39 329.6,264.31 330.1,264.37 330.6,264.62 331.1,264.52 331.6,264.54 332.1,264.19 332.6,264.38 333.1,264.31 333.6,264.17 334.1,264.33 334.6,264.17 335.1,264.25 335.6,264.53 336.1,264.47 336.6,264.48 337.1,264.17 337.6,264.21 338.1,264.14 338.6,264.18 339.1,264.18 339.6,264.61 340.1,264.58 340.6,264.24 341.1,264.26 341.6,264.61 342.1,264.42 342.6,264.32 343.1,264.37 343.6,264.27 344.1,264.43 344.6,264.5 345.1,264.39 345.6,264.55" fill="none" stroke="#2e2e2e" stroke-width="1.2" stroke-linejoin="round"/>
<text x="103.2" y="228.9" font-size="7.2" font-weight="bold" fill="#111" stroke="#111" stroke-width="0.3" text-anchor="start"  >151 cm<tspan font-size="3.6" dx="0.4" dy="-3.5">-1</tspan></text>
<text x="140.3" y="223.6" font-size="7.2" font-weight="bold" fill="#111" stroke="#111" stroke-width="0.3" text-anchor="start"  >218 cm<tspan font-size="3.6" dx="0.4" dy="-3.5">-1</tspan></text>
<text x="269" y="240.1" font-size="7.2" font-weight="bold" fill="#111" stroke="#111" stroke-width="0.3" text-anchor="start"  >472 cm<tspan font-size="3.6" dx="0.4" dy="-3.5">-1</tspan></text>
<rect x="172.2" y="244" width="82.7" height="10.2" fill="#fff" stroke="#8a9aa8" stroke-width="0.8"/>
<line x1="175.8" y1="249.2" x2="188" y2="249.2" stroke="#222" stroke-width="1.2"/>
<text x="190.6" y="251.7" font-size="7.5" font-weight="bold" fill="#111" stroke="#111" stroke-width="0.3" text-anchor="start"  >Sulfur (Standard)</text>
<polyline points="99.6,319.23 100.1,318.48 100.6,318.27 101.1,318.58 101.6,318.02 102.1,317.23 102.6,316.27 103.1,315.81 103.6,316.47 104.1,316.47 104.6,315.78 105.1,314.49 105.6,314.31 106.1,314.86 106.6,313.67 107.1,313.07 107.6,312.56 108.1,311.62 108.6,311.66 109.1,311.43 109.6,311.71 110.1,312.31 110.6,311.67 111.1,311 111.6,310.73 112.1,310.53 112.6,311.39 113.1,312.21 113.6,311.67 114.1,311.81 114.6,312.55 115.1,313.33 115.6,314.07 116.1,314.14 116.6,314.31 117.1,315.08 117.6,315.94 118.1,315.52 118.6,314.91 119.1,315.75 119.6,315.84 120.1,315.63 120.6,315.96 121.1,316.23 121.6,316.56 122.1,316.85 122.6,318.04 123.1,319.11 123.6,319.43 124.1,319.33 124.6,319.42 125.1,319.47 125.6,319.21 126.1,319.56 126.6,320.47 127.1,320.25 127.6,319.59 128.1,320.61 128.6,321.08 129.1,321.13 129.6,321.77 130.1,322.16 130.6,321.88 131.1,321.29 131.6,321.88 132.1,322.47 132.6,322.38 133.1,322.52 133.6,322.59 134.1,322.85 134.6,322.56 135.1,322.37 135.6,323.18 136.1,322.76 136.6,322.41 137.1,322.51 137.6,322.38 138.1,322.08 138.6,321.6 139.1,322.46 139.6,323.02 140.1,322.89 140.6,323.27 141.1,323.06 141.6,322.64 142.1,322.37 142.6,322.91 143.1,323.73 143.6,323.68 144.1,323.76 144.6,323.67 145.1,323.48 145.6,322.96 146.1,323.06 146.6,323.25 147.1,322.88 147.6,322.88 148.1,323.06 148.6,323.49 149.1,323.52 149.6,323.14 150.1,322.74 150.6,323.4 151.1,323.53 151.6,323.07 152.1,322.86 152.6,322.73 153.1,322.76 153.6,322.87 154.1,323.68 154.6,324.51 155.1,324.49 155.6,323.74 156.1,323.88 156.6,324.41 157.1,324.71 157.6,324.7 158.1,324.89 158.6,324.84 159.1,324.17 159.6,324.36 160.1,325.17 160.6,325.46 161.1,324.96 161.6,324.67 162.1,324.74 162.6,324.49 163.1,324.11 163.6,324.45 164.1,324.59 164.6,324.12 165.1,322.86 165.6,322.27 166.1,322.38 166.6,322.65 167.1,322.46 167.6,322.36 168.1,322.16 168.6,321.44 169.1,322.19 169.6,322.27 170.1,322.1 170.6,321.89 171.1,320.89 171.6,320.93 172.1,321.12 172.6,320.7 173.1,320.06 173.6,319.44 174.1,320.21 174.6,321 175.1,320.87 175.6,319.97 176.1,318.69 176.6,318.75 177.1,319.4 177.6,319.35 178.1,318.37 178.6,317.72 179.1,318.35 179.6,317.98 180.1,318 180.6,318.97 181.1,318.1 181.6,316.83 182.1,317.56 182.6,318.27 183.1,317.49 183.6,317 184.1,317.41 184.6,317.12 185.1,315.95 185.6,316.13 186.1,316.31 186.6,316.26 187.1,316.89 187.6,316.39 188.1,315.42 188.6,314.94 189.1,315.53 189.6,315.45 190.1,315.49 190.6,316.14 191.1,315.99 191.6,316.02 192.1,315.06 192.6,314.2 193.1,315.04 193.6,315.09 194.1,314.8 194.6,314.57 195.1,313.89 195.6,314.41 196.1,314.27 196.6,314.28 197.1,314.95 197.6,314.35 198.1,313.57 198.6,313.14 199.1,313.2 199.6,313.16 200.1,313.26 200.6,313.92 201.1,313.82 201.6,313.63 202.1,313.57 202.6,313.84 203.1,313.67 203.6,313.53 204.1,313.22 204.6,312.26 205.1,312.01 205.6,312.7 206.1,312.62 206.6,312.5 207.1,313.21 207.6,312.85 208.1,311.84 208.6,311.85 209.1,312.04 209.6,312.29 210.1,312.02 210.6,311.12 211.1,311.35 211.6,311.58 212.1,311.14 212.6,310.92 213.1,311.42 213.6,311.46 214.1,310.65 214.6,310.51 215.1,310.87 215.6,310.84 216.1,310.29 216.6,310 217.1,311.04 217.6,311.69 218.1,311.6 218.6,311.37 219.1,310.69 219.6,310.83 220.1,310.59 220.6,310.11 221.1,310.39 221.6,310.15 222.1,309.69 222.6,309.51 223.1,309.94 223.6,309.86 224.1,309.48 224.6,309.55 225.1,309.51 225.6,310.09 226.1,310.38 226.6,309.44 227.1,309.72 227.6,310.35 228.1,310.46 228.6,310.51 229.1,310.01 229.6,310.49 230.1,310.39 230.6,309.78 231.1,310.2 231.6,310.95 232.1,310.56 232.6,309.99 233.1,310.54 233.6,311 234.1,310.54 234.6,310.69 235.1,311.28 235.6,311.04 236.1,310.88 236.6,310.68 237.1,311.33 237.6,312.18 238.1,311.37 238.6,310.47 239.1,311.1 239.6,311.8 240.1,312.03 240.6,311.52 241.1,310.82 241.6,310.58 242.1,310.81 242.6,311.43 243.1,312.06 243.6,311.44 244.1,310.52 244.6,311.28 245.1,311.99 245.6,311.35 246.1,310.55 246.6,310.21 247.1,310.58 247.6,310.56 248.1,309.77 248.6,310.01 249.1,309.75 249.6,309.58 250.1,309.54 250.6,308.97 251.1,309.66 251.6,310.52 252.1,310.27 252.6,309.8 253.1,310.08 253.6,309.69 254.1,309.18 254.6,310.17 255.1,310.98 255.6,309.93 256.1,308.8 256.6,309.67 257.1,310.21 257.6,310.2 258.1,310.43 258.6,310.05 259.1,310.13 259.6,310.32 260.1,309.48 260.6,309.31 261.1,310.35 261.6,310.72 262.1,310.45 262.6,310.25 263.1,310.44 263.6,310.04 264.1,309.53 264.6,309.93 265.1,310.41 265.6,309.99 266.1,309.14 266.6,309 267.1,309.23 267.6,308.92 268.1,309.06 268.6,309.93 269.1,309.5 269.6,309.51 270.1,309.57 270.6,309.05 271.1,309.72 271.6,309.94 272.1,309.39 272.6,309.46 273.1,309.45 273.6,309.44 274.1,309.17 274.6,308.43 275.1,308.93 275.6,309.51 276.1,309.39 276.6,308.95 277.1,309.57 277.6,309.62 278.1,309.71 278.6,310.02 279.1,309.25 279.6,310.05 280.1,310.92 280.6,310.69 281.1,310.75 281.6,310.18 282.1,310.12 282.6,310.73 283.1,310.13 283.6,310.18 284.1,310.04 284.6,310.36 285.1,311.09 285.6,310.36 286.1,309.95 286.6,310.28 287.1,310.69 287.6,310.72 288.1,310.62 288.6,311.12 289.1,311.06 289.6,311.43 290.1,311.93 290.6,311.67 291.1,311.98 291.6,311.87 292.1,312.46 292.6,312.66 293.1,312.55 293.6,313.92 294.1,313.81 294.6,313.9 295.1,315.32 295.6,316.11 296.1,315.78 296.6,315.75 297.1,316.88 297.6,317.32 298.1,317.68 298.6,318.22 299.1,317.68 299.6,317.7 300.1,319.18 300.6,319.77 301.1,319.68 301.6,319.94 302.1,320.07 302.6,320.96 303.1,321.69 303.6,322.37 304.1,322.36 304.6,322.73 305.1,323.14 305.6,323.43 306.1,324.2 306.6,324.42 307.1,324.73 307.6,324.34 308.1,325.23 308.6,326.1 309.1,325.51 309.6,325.73 310.1,326 310.6,326.04 311.1,326.77 311.6,327.29 312.1,326.98 312.6,326.74 313.1,327.43 313.6,328.09 314.1,328.84 314.6,329.19 315.1,329.41 315.6,329.45 316.1,328.99 316.6,329.18 317.1,329.29 317.6,329.7 318.1,330.76 318.6,331.66 319.1,331.52 319.6,331.7 320.1,332.66 320.6,333 321.1,333.61 321.6,333.83 322.1,333.56 322.6,333.87 323.1,333.7 323.6,333.42 324.1,334.36 324.6,335.16 325.1,335.07 325.6,335.39 326.1,336.33 326.6,336.86 327.1,336.89 327.6,337.5 328.1,337.39 328.6,337.82 329.1,338.85 329.6,338.56 330.1,338.83 330.6,339.69 331.1,339.87 331.6,339.76 332.1,340.02 332.6,340.51 333.1,340.92 333.6,340.34 334.1,339.47 334.6,339.64 335.1,340.21 335.6,340.33 336.1,340.6 336.6,341.57 337.1,341.4 337.6,340.87 338.1,341.79 338.6,341.62 339.1,341.18 339.6,341.82 340.1,342.45 340.6,342.95 341.1,342.46 341.6,342.69 342.1,343.03 342.6,342.16 343.1,341.94 343.6,342.42 344.1,343.31 344.6,342.97 345.1,342.35 345.6,343.32" fill="none" stroke="#2a44e6" stroke-width="1.3" stroke-linejoin="round"/>
<polyline points="99.6,295.88 100.1,296.78 100.6,297.11 101.1,297.01 101.6,296.72 102.1,296.8 102.6,297.21 103.1,295.98 103.6,295.62 104.1,295.17 104.6,293.98 105.1,293.92 105.6,294.27 106.1,294.41 106.6,293.47 107.1,292.63 107.6,292.13 108.1,291.17 108.6,290.8 109.1,290.1 109.6,289.74 110.1,289.21 110.6,288.09 111.1,287.24 111.6,285.24 112.1,283.13 112.6,281.31 113.1,279.83 113.6,278.14 114.1,276.9 114.6,276.71 115.1,276.81 115.6,278.1 116.1,280.88 116.6,283.78 117.1,287.71 117.6,291.65 118.1,293.69 118.6,294.82 119.1,295.68 119.6,296.66 120.1,297.96 120.6,298.46 121.1,299.03 121.6,299.77 122.1,299.75 122.6,300.2 123.1,300.54 123.6,300.91 124.1,300.97 124.6,300.98 125.1,301.96 125.6,302.79 126.1,302.48 126.6,302.48 127.1,302.95 127.6,303 128.1,303.53 128.6,304.09 129.1,303.88 129.6,304.21 130.1,305.08 130.6,304.84 131.1,304.53 131.6,305.15 132.1,305.49 132.6,305.5 133.1,305.59 133.6,306.04 134.1,306.28 134.6,306.12 135.1,306.08 135.6,306.07 136.1,306.56 136.6,306.39 137.1,306.49 137.6,306.41 138.1,306.1 138.6,306 139.1,305.91 139.6,306.25 140.1,306.18 140.6,306.19 141.1,305.53 141.6,304.93 142.1,304.93 142.6,304.38 143.1,303.27 143.6,302.37 144.1,301.68 144.6,301.54 145.1,300.82 145.6,299.77 146.1,298.83 146.6,296.4 147.1,292.09 147.6,288.1 148.1,283.32 148.6,277.93 149.1,274.8 149.6,274.6 150.1,276.19 150.6,278.89 151.1,282.88 151.6,288.2 152.1,293.07 152.6,297.95 153.1,302.43 153.6,303.14 154.1,303.25 154.6,303.99 155.1,304.59 155.6,305.36 156.1,305.41 156.6,305.16 157.1,305.7 157.6,305.9 158.1,305.71 158.6,306.04 159.1,305.93 159.6,305.47 160.1,305.78 160.6,306.39 161.1,306.33 161.6,305.8 162.1,306.51 162.6,306.65 163.1,306.5 163.6,306.81 164.1,307.01 164.6,307.54 165.1,307.23 165.6,307.16 166.1,307.59 166.6,307.62 167.1,307.5 167.6,307.51 168.1,308.18 168.6,308.36 169.1,308.2 169.6,309.04 170.1,309.56 170.6,309.5 171.1,308.85 171.6,308.29 172.1,308.33 172.6,308.45 173.1,308.67 173.6,308.54 174.1,308.67 174.6,308.82 175.1,308.68 175.6,308.16 176.1,308.16 176.6,308.52 177.1,308.04 177.6,307.71 178.1,308.25 178.6,308.12 179.1,307.42 179.6,307.51 180.1,307.6 180.6,306.87 181.1,306.63 181.6,307.09 182.1,307.2 182.6,306.89 183.1,305.88 183.6,305.21 184.1,305.21 184.6,305.28 185.1,304.69 185.6,304.15 186.1,304.01 186.6,304.16 187.1,304.34 187.6,303.71 188.1,302.85 188.6,301.85 189.1,301.72 189.6,301.83 190.1,300.93 190.6,299.11 191.1,297.98 191.6,297.15 192.1,296.71 192.6,297.06 193.1,297.27 193.6,297.38 194.1,297.37 194.6,298.03 195.1,298.02 195.6,298.15 196.1,298.89 196.6,299.01 197.1,298.86 197.6,299.08 198.1,299.76 198.6,300.38 199.1,300.34 199.6,300.34 200.1,300.81 200.6,300.41 201.1,299.73 201.6,300.46 202.1,301.16 202.6,300.75 203.1,300.84 203.6,301.37 204.1,301.32 204.6,301.25 205.1,301.31 205.6,301.76 206.1,301.89 206.6,302.15 207.1,302.93 207.6,303.05 208.1,302.66 208.6,302.54 209.1,302.91 209.6,303 210.1,303.17 210.6,303.61 211.1,303.52 211.6,303.22 212.1,303.79 212.6,304.41 213.1,303.86 213.6,303.85 214.1,304.04 214.6,304.05 215.1,304.29 215.6,304.63 216.1,304.53 216.6,304.67 217.1,304.96 217.6,304.33 218.1,304.5 218.6,304.51 219.1,304.82 219.6,305.13 220.1,304.82 220.6,304.64 221.1,304.57 221.6,305.01 222.1,305.01 222.6,305.05 223.1,305.87 223.6,305.88 224.1,305.3 224.6,305.77 225.1,306.32 225.6,306.31 226.1,306.04 226.6,306.08 227.1,306.71 227.6,307.07 228.1,307.2 228.6,307.42 229.1,307.69 229.6,308.46 230.1,308.73 230.6,308.6 231.1,309.01 231.6,308.89 232.1,308.8 232.6,309.04 233.1,309.71 233.6,309.87 234.1,309.95 234.6,310.14 235.1,310.14 235.6,310.48 236.1,310.15 236.6,309.97 237.1,310.39 237.6,310.54 238.1,310.43 238.6,309.82 239.1,309.96 239.6,310.56 240.1,309.71 240.6,309.05 241.1,309.48 241.6,309.3 242.1,308.63 242.6,308.62 243.1,308.14 243.6,308.06 244.1,307.72 244.6,306.83 245.1,307 245.6,307.04 246.1,307.07 246.6,306.89 247.1,306.93 247.6,307.21 248.1,307.31 248.6,306.99 249.1,306.31 249.6,306.45 250.1,306.41 250.6,306.23 251.1,305.99 251.6,305.99 252.1,306.51 252.6,306.66 253.1,306.63 253.6,306.22 254.1,305.71 254.6,305.79 255.1,305.84 255.6,305.22 256.1,304.96 256.6,304.93 257.1,305.05 257.6,305.38 258.1,305.29 258.6,305.74 259.1,306.17 259.6,305.44 260.1,305.2 260.6,305.52 261.1,305.75 261.6,306.19 262.1,306.21 262.6,305.42 263.1,305.5 263.6,305.64 264.1,305.15 264.6,305.34 265.1,305.77 265.6,305.6 266.1,305.01 266.6,305.7 267.1,305.56 267.6,304.91 268.1,305.21 268.6,305.09 269.1,304.91 269.6,304.76 270.1,305.19 270.6,305.25 271.1,305 271.6,304.94 272.1,304.15 272.6,303.78 273.1,304.2 273.6,303.97 274.1,302.9 274.6,302.96 275.1,302.82 275.6,301.65 276.1,300.84 276.6,299.93 277.1,298.68 277.6,297.01 278.1,295.08 278.6,293.63 279.1,292.63 279.6,291.54 280.1,290.19 280.6,289.78 281.1,290.6 281.6,292.27 282.1,294.35 282.6,296.9 283.1,299.9 283.6,302.94 284.1,304.77 284.6,305.8 285.1,307.15 285.6,308.27 286.1,307.92 286.6,308.29 287.1,309.08 287.6,309.13 288.1,309.47 288.6,310.04 289.1,310.29 289.6,310.28 290.1,310.66 290.6,311.35 291.1,311.6 291.6,311.73 292.1,312.71 292.6,313.21 293.1,313.68 293.6,314.22 294.1,313.81 294.6,313.91 295.1,314.64 295.6,315.4 296.1,316.13 296.6,315.75 297.1,316.15 297.6,317.14 298.1,317.28 298.6,317.94 299.1,318.25 299.6,318.49 300.1,319.35 300.6,319.95 301.1,320.18 301.6,320.42 302.1,321.14 302.6,321.27 303.1,321.57 303.6,322.54 304.1,322.4 304.6,322.8 305.1,323.16 305.6,322.78 306.1,323.42 306.6,324.54 307.1,325.28 307.6,325.27 308.1,325.45 308.6,325.44 309.1,325.57 309.6,325.78 310.1,325.7 310.6,326.67 311.1,327.52 311.6,327.62 312.1,327.51 312.6,327.9 313.1,327.9 313.6,327.83 314.1,328.49 314.6,328.35 315.1,328.82 315.6,329.32 316.1,329.71 316.6,330.59 317.1,330.77 317.6,330.99 318.1,330.88 318.6,330.61 319.1,331.01 319.6,331.58 320.1,332.45 320.6,333.21 321.1,333.49 321.6,333.73 322.1,334.07 322.6,334.23 323.1,334.69 323.6,335.51 324.1,335.44 324.6,335.73 325.1,336.35 325.6,336.46 326.1,336.62 326.6,337.22 327.1,337.38 327.6,336.95 328.1,336.96 328.6,337.82 329.1,338.5 329.6,338.21 330.1,338.24 330.6,338.81 331.1,339.34 331.6,338.97 332.1,338.99 332.6,339.58 333.1,339.86 333.6,339.63 334.1,339.17 334.6,339.75 335.1,340.05 335.6,339.58 336.1,339.71 336.6,340.4 337.1,340.4 337.6,339.93 338.1,340.38 338.6,340.33 339.1,339.8 339.6,339.83 340.1,340.53 340.6,340.88 341.1,340.41 341.6,340.15 342.1,340.26 342.6,340.44 343.1,341.03 343.6,341.05 344.1,340.99 344.6,341.39 345.1,340.77 345.6,340.51" fill="none" stroke="#f0243f" stroke-width="1.3" stroke-linejoin="round"/>
<rect x="171.6" y="324.9" width="102.9" height="19.3" fill="#fff" stroke="#8a9aa8" stroke-width="0.8"/>
<line x1="175.3" y1="329.3" x2="188.9" y2="329.3" stroke="#2a44e6" stroke-width="1.3"/>
<line x1="175.3" y1="339.0" x2="188.9" y2="339.0" stroke="#f0243f" stroke-width="1.3"/>
<text x="191.3" y="332.2" font-size="7.4" font-weight="bold" fill="#2a44e6" stroke="#2a44e6" stroke-width="0.3" text-anchor="start"  >CdS before illumination</text>
<text x="191.3" y="341.4" font-size="7.4" font-weight="bold" fill="#f0243f" stroke="#f0243f" stroke-width="0.3" text-anchor="start"  >CdS after illumination</text>
</svg>
</body></html>
